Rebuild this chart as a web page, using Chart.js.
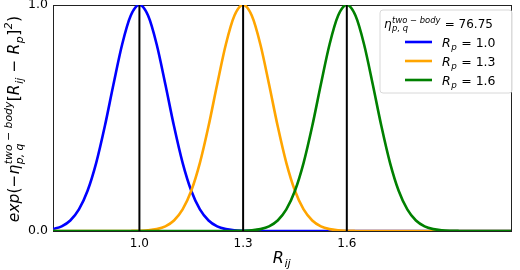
<!DOCTYPE html>
<html>
<head>
<meta charset="utf-8">
<script src="https://cdn.jsdelivr.net/npm/chart.js@4.4.0/dist/chart.umd.min.js"></script>
<style>
html,body{margin:0;padding:0;background:#fff;}
#c{display:block;}
</style>
</head>
<body>
<canvas id="c" width="520" height="270"></canvas>
<script>
// ---- data ----
const rValues = [0.75,0.775,0.8,0.825,0.85,0.875,0.9,0.925,0.95,0.975,
  1.0,1.025,1.05,1.075,1.1,1.125,1.15,1.175,1.2,1.225,
  1.25,1.275,1.3,1.325,1.35,1.375,1.4,1.425,1.45,1.475,
  1.5,1.525,1.55,1.575,1.6,1.625,1.65,1.675,1.7,1.725,
  1.75,1.775,1.8,1.825,1.85,1.875,1.9,1.925,1.95,1.975,
  2.0,2.025,2.05,2.075];
const curveRp10 = [0.0083,0.0205,0.0464,0.0953,0.1778,0.3014,0.4642,0.6494,0.8254,0.9532,
  1,0.9532,0.8254,0.6494,0.4642,0.3014,0.1778,0.0953,0.0464,0.0205,
  0.0083,0.003,0.001,0.0003,0.0001,0,0,0,0,0,
  0,0,0,0,0,0,0,0,0,0,
  0,0,0,0,0,0,0,0,0,0,
  0,0,0,0];
const curveRp13 = [0,0,0,0,0,0,0,0,0.0001,0.0003,
  0.001,0.003,0.0083,0.0205,0.0464,0.0953,0.1778,0.3014,0.4642,0.6494,
  0.8254,0.9532,1,0.9532,0.8254,0.6494,0.4642,0.3014,0.1778,0.0953,
  0.0464,0.0205,0.0083,0.003,0.001,0.0003,0.0001,0,0,0,
  0,0,0,0,0,0,0,0,0,0,
  0,0,0,0];
const curveRp16 = [0,0,0,0,0,0,0,0,0,0,
  0,0,0,0,0,0,0,0,0,0,
  0.0001,0.0003,0.001,0.003,0.0083,0.0205,0.0464,0.0953,0.1778,0.3014,
  0.4642,0.6494,0.8254,0.9532,1,0.9532,0.8254,0.6494,0.4642,0.3014,
  0.1778,0.0953,0.0464,0.0205,0.0083,0.003,0.001,0.0003,0.0001,0,
  0,0,0,0];
const peakPositions = [1.0, 1.3, 1.6];
const seriesLabels = ['1.0', '1.3', '1.6'];
const xTickValues = [1.0, 1.3, 1.6];
const yTickValues = [0.0, 1.0];
const etaValue = '76.75';

const colors = ['#0000ff', '#ffa500', '#008000'];
const curves = [curveRp10, curveRp13, curveRp16];

const FONT = "'DejaVu Sans', sans-serif";

const datasets = [];
peakPositions.forEach((p, i) => {
  datasets.push({
    data: [{x: p, y: 0}, {x: p, y: 1}],
    borderColor: '#000', borderWidth: 2, pointRadius: 0, order: 0, tension: 0
  });
});
curves.forEach((c, i) => {
  datasets.push({
    data: rValues.map((x, k) => ({x: x, y: c[k]})),
    borderColor: colors[i], borderWidth: 2.6, pointRadius: 0,
    cubicInterpolationMode: 'monotone', order: 3 - i
  });
});

function setFont(ctx, it, sz) { ctx.font = (it ? 'italic ' : '') + sz + 'px ' + FONT; }
function segWidth(ctx, s, size) {
  const small = size * 0.7;
  if (s.sub !== undefined || s.sup !== undefined) {
    let a = 0, b = 0;
    if (s.sub) { setFont(ctx, true, small); a = ctx.measureText(s.sub).width; }
    if (s.sup) { setFont(ctx, true, small); b = ctx.measureText(s.sup).width; }
    return Math.max(a, b) + 1;
  }
  setFont(ctx, s.it, size);
  return ctx.measureText(s.t).width;
}
function measureRich(ctx, segs, size) {
  let w = 0;
  segs.forEach(s => { s._w = segWidth(ctx, s, size); w += s._w; });
  return w;
}
function drawRich(ctx, segs, x, y, size) {
  const small = size * 0.7;
  let cx = x;
  segs.forEach(s => {
    if (s.sub !== undefined || s.sup !== undefined) {
      if (s.sub) { setFont(ctx, true, small); ctx.fillText(s.sub, cx + 0.5, y + size * 0.28); }
      if (s.sup) { setFont(ctx, true, small); ctx.fillText(s.sup, cx + 0.5, y - size * 0.45); }
    } else {
      setFont(ctx, s.it, size);
      ctx.fillText(s.t, cx, y);
    }
    cx += s._w;
  });
}

const yTitleSegs = [
  {t: 'exp', it: true}, {t: '(−', it: false}, {t: 'η', it: true},
  {sub: 'p, q', sup: 'two − body'},
  {t: '[', it: false}, {t: 'R', it: true}, {sub: 'ij'},
  {t: ' − ', it: false}, {t: 'R', it: true}, {sub: 'p'},
  {t: ']', it: false}, {sup: '2'}, {t: ')', it: false}
];

const decorPlugin = {
  id: 'decor',
  beforeDatasetsDraw(chart) {
    const {ctx, chartArea: a} = chart;
    ctx.save();
    ctx.strokeStyle = '#222';
    ctx.lineWidth = 1;
    ctx.strokeRect(Math.round(a.left) + 0.5, Math.round(a.top) + 0.5,
      Math.round(a.right - a.left), Math.round(a.bottom - a.top));
    ctx.restore();
  },
  afterDraw(chart) {
    const {ctx, chartArea: a} = chart;
    ctx.save();
    ctx.fillStyle = '#000';
    ctx.textBaseline = 'alphabetic';
    const ys = 15.5;
    const w = measureRich(ctx, yTitleSegs, ys);
    ctx.save();
    ctx.translate(18.5, (a.top + a.bottom) / 2 + 1);
    ctx.rotate(-Math.PI / 2);
    drawRich(ctx, yTitleSegs, -w / 2, 0, ys);
    ctx.restore();
    const xSegs = [{t: 'R', it: true}, {sub: 'ij'}];
    const xs = 16;
    const xw = measureRich(ctx, xSegs, xs);
    drawRich(ctx, xSegs, (a.left + a.right) / 2 - xw / 2, 263, xs);

    // legend
    const lx = 380, ly = 10, lw = 132, lh = 83;
    ctx.beginPath();
    const r = 3;
    ctx.moveTo(lx + r, ly);
    ctx.arcTo(lx + lw, ly, lx + lw, ly + lh, r);
    ctx.arcTo(lx + lw, ly + lh, lx, ly + lh, r);
    ctx.arcTo(lx, ly + lh, lx, ly, r);
    ctx.arcTo(lx, ly, lx + lw, ly, r);
    ctx.closePath();
    ctx.fillStyle = 'rgba(255,255,255,0.85)';
    ctx.fill();
    ctx.strokeStyle = '#d8d8d8';
    ctx.lineWidth = 1;
    ctx.stroke();
    ctx.fillStyle = '#000';
    const ts = 12;
    const tSegs = [{t: 'η', it: true}, {sub: 'p, q', sup: 'two − body'}, {t: ' = ' + etaValue, it: false}];
    measureRich(ctx, tSegs, ts);
    drawRich(ctx, tSegs, 384, 28, ts);
    const ls = 12.5;
    seriesLabels.forEach((lab, i) => {
      const y = 42 + i * 19;
      ctx.strokeStyle = colors[i];
      ctx.lineWidth = 2.6;
      ctx.beginPath();
      ctx.moveTo(405, y); ctx.lineTo(432, y);
      ctx.stroke();
      ctx.fillStyle = '#000';
      const segs = [{t: 'R', it: true}, {sub: 'p'}, {t: ' = ' + lab, it: false}];
      measureRich(ctx, segs, ls);
      drawRich(ctx, segs, 442, y + 4.5, ls);
    });
    ctx.restore();
  }
};

new Chart(document.getElementById('c'), {
  type: 'line',
  data: {datasets},
  options: {
    responsive: false,
    animation: false,
    devicePixelRatio: 1,
    layout: {padding: {top: 5, right: 9, left: 0, bottom: 0}},
    plugins: {legend: {display: false}, tooltip: {enabled: false}},
    scales: {
      x: {
        type: 'linear', min: 0.75, max: 2.075,
        afterBuildTicks: s => { s.ticks = xTickValues.map(v => ({value: v})); },
        afterFit: s => { s.height = 39; s.paddingLeft = 0; s.paddingRight = 0; },
        grid: {display: false, drawTicks: false},
        border: {display: false},
        ticks: {padding: 6, color: '#000', font: {family: FONT, size: 12},
          callback: v => Number(v).toFixed(1)}
      },
      y: {
        type: 'linear', min: 0, max: 1,
        afterBuildTicks: s => { s.ticks = yTickValues.map(v => ({value: v})); },
        afterFit: s => { s.width = 53; s.paddingTop = 0; s.paddingBottom = 0; },
        grid: {display: false, drawTicks: false},
        border: {display: false},
        ticks: {padding: 5, color: '#000', font: {family: FONT, size: 12.5},
          callback: v => Number(v).toFixed(1)}
      }
    }
  },
  plugins: [decorPlugin]
});
</script>
</body>
</html>
